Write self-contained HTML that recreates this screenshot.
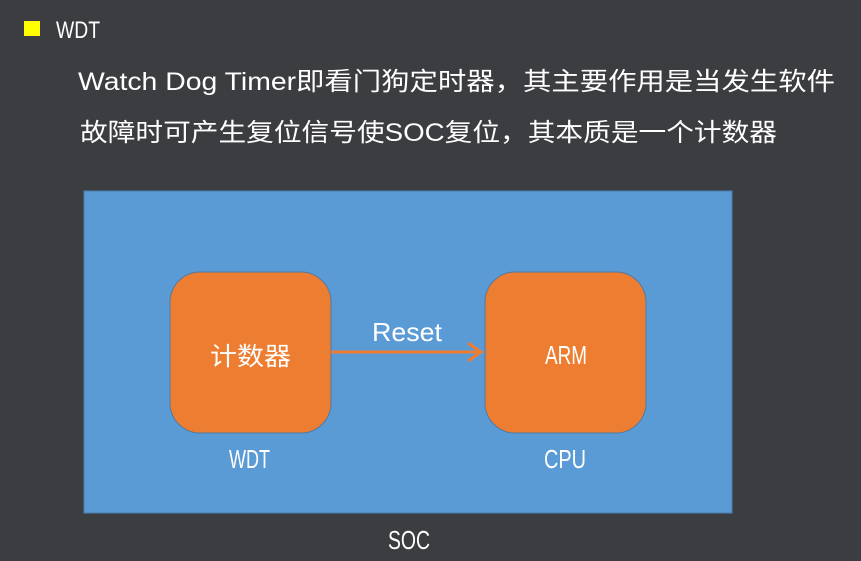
<!DOCTYPE html>
<html><head><meta charset="utf-8"><style>
html,body{margin:0;padding:0;background:#3c3d41;width:861px;height:561px;overflow:hidden}
</style></head><body>
<svg width="861" height="561" xmlns="http://www.w3.org/2000/svg" style="display:block">
<rect width="861" height="561" fill="#3c3d41"/>
<rect x="24" y="21" width="16" height="15" fill="#ffff00"/>
<g font-family="'Liberation Sans','Noto Sans CJK SC',sans-serif" fill="#ffffff">
<text x="56" y="38" font-size="24" textLength="44" lengthAdjust="spacingAndGlyphs">WDT</text>
<text x="78" y="90" font-size="25" textLength="757" lengthAdjust="spacingAndGlyphs">Watch Dog Timer即看门狗定时器，其主要作用是当发生软件</text>
<text x="80" y="141" font-size="25" textLength="697" lengthAdjust="spacingAndGlyphs">故障时可产生复位信号使SOC复位，其本质是一个计数器</text>
</g>
<rect x="84" y="191" width="648" height="322" fill="#5b9bd5" stroke="#4a7fb0" stroke-width="1"/>
<rect x="170" y="272" width="161" height="161" rx="30" fill="#ed7d31" stroke="#4f7aa3" stroke-width="1"/>
<rect x="485" y="272" width="161" height="161" rx="30" fill="#ed7d31" stroke="#4f7aa3" stroke-width="1"/>
<line x1="331" y1="352" x2="480" y2="352" stroke="#ed7d31" stroke-width="3"/>
<polyline points="468,343 481,352 468,361" fill="none" stroke="#ed7d31" stroke-width="3"/>
<g font-family="'Liberation Sans','Noto Sans CJK SC',sans-serif" fill="#ffffff">
<text x="210" y="365" font-size="25" textLength="81" lengthAdjust="spacingAndGlyphs">计数器</text>
<text x="545" y="364" font-size="26" textLength="42" lengthAdjust="spacingAndGlyphs">ARM</text>
<text x="372" y="341" font-size="26" textLength="70" lengthAdjust="spacingAndGlyphs">Reset</text>
<text x="229" y="468" font-size="26" textLength="41" lengthAdjust="spacingAndGlyphs">WDT</text>
<text x="544" y="468" font-size="26" textLength="42" lengthAdjust="spacingAndGlyphs">CPU</text>
<text x="388" y="549" font-size="26" textLength="42" lengthAdjust="spacingAndGlyphs">SOC</text>
</g>
</svg>
</body></html>
